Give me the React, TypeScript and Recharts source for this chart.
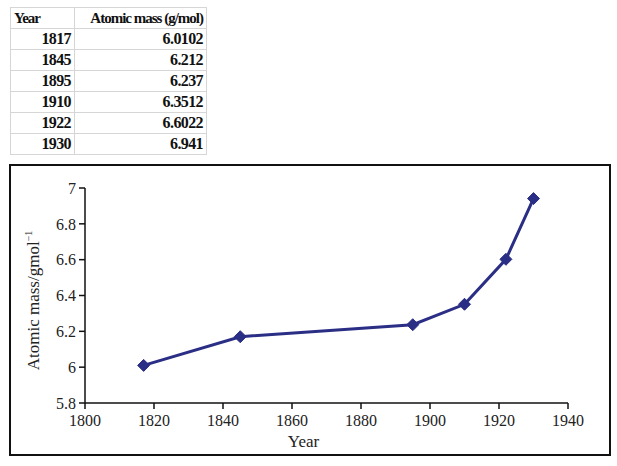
import { Label, Line, LineChart, XAxis, YAxis } from "recharts";

// table values (as printed above the chart)
const tableYears = ["1817", "1845", "1895", "1910", "1922", "1930"];
const tableMass = ["6.0102", "6.212", "6.237", "6.3512", "6.6022", "6.941"];

// plotted points
const years = [1817, 1845, 1895, 1910, 1922, 1930];
const mass = [6.01, 6.17, 6.237, 6.351, 6.602, 6.941];

const xTicks = [1800, 1820, 1840, 1860, 1880, 1900, 1920, 1940];
const yTicks = [5.8, 6, 6.2, 6.4, 6.6, 6.8, 7];

const data = years.map((y, i) => ({ year: y, mass: mass[i] }));

const NAVY = "#2b2e85";
const FONT = "'Liberation Serif', 'Times New Roman', serif";

const cell: React.CSSProperties = {
  border: "1px solid #d6d6d6",
  height: 20,
  padding: "0 3px",
  fontWeight: 700,
  fontSize: 16,
  letterSpacing: -0.6,
  lineHeight: "20px",
  textAlign: "right",
};

function Diamond(props: any) {
  const { cx, cy } = props;
  if (cx == null || cy == null) return null;
  const r = 6;
  return (
    <polygon
      points={`${cx},${cy - r} ${cx + r},${cy} ${cx},${cy + r} ${cx - r},${cy}`}
      fill={NAVY}
      stroke={NAVY}
    />
  );
}

function YTitle(props: any) {
  const vb = props.viewBox;
  const x = vb.x + 28;
  const y = vb.y + vb.height / 2 + 5;
  return (
    <text
      x={x}
      y={y}
      transform={`rotate(-90 ${x} ${y})`}
      textAnchor="middle"
      fontFamily={FONT}
      fontSize={17}
      fill="#222"
    >
      Atomic mass/gmol
      <tspan dy={-7} fontSize={10}>−1</tspan>
    </text>
  );
}

function XTitle(props: any) {
  const vb = props.viewBox;
  return (
    <text
      x={vb.x + vb.width / 2 - 23}
      y={vb.y + 44}
      textAnchor="middle"
      fontFamily={FONT}
      fontSize={17}
      fill="#222"
    >
      Year
    </text>
  );
}

export default function App() {
  return (
    <div
      style={{
        position: "absolute",
        left: 0,
        top: 0,
        width: 617,
        height: 466,
        background: "#fff",
        fontFamily: FONT,
        color: "#111",
      }}
    >
      {/* data table */}
      <table
        style={{
          position: "absolute",
          left: 10,
          top: 7,
          borderCollapse: "collapse",
          fontFamily: FONT,
        }}
      >
        <tbody>
          <tr>
            <td style={{ ...cell, width: 57, textAlign: "left", fontSize: 15, letterSpacing: -1 }}>Year</td>
            <td style={{ ...cell, width: 125, fontSize: 15, letterSpacing: -1 }}>Atomic mass (g/mol)</td>
          </tr>
          {tableYears.map((y, i) => (
            <tr key={y}>
              <td style={cell}>{y}</td>
              <td style={cell}>{tableMass[i]}</td>
            </tr>
          ))}
        </tbody>
      </table>

      {/* chart frame */}
      <div
        style={{
          position: "absolute",
          left: 9,
          top: 164,
          width: 602,
          height: 292,
          boxSizing: "border-box",
          border: "2px solid #111",
        }}
      >
        <LineChart
          width={598}
          height={288}
          data={data}
          margin={{ top: 22, right: 41, bottom: 0, left: 0 }}
        >
          <XAxis
            dataKey="year"
            type="number"
            domain={[1800, 1940]}
            ticks={xTicks}
            allowDataOverflow
            height={51}
            tickSize={6}
            tickMargin={6}
            stroke="#111"
            strokeWidth={1.5}
            tick={{ fontSize: 16, fontFamily: FONT, fill: "#222" }}
          >
            <Label content={XTitle} />
          </XAxis>
          <YAxis
            type="number"
            domain={[5.8, 7]}
            ticks={yTicks}
            allowDataOverflow
            width={74}
            tickSize={6}
            tickMargin={3}
            stroke="#111"
            strokeWidth={1.5}
            tick={{ fontSize: 16, fontFamily: FONT, fill: "#222" }}
          >
            <Label content={YTitle} />
          </YAxis>
          <Line
            dataKey="mass"
            stroke={NAVY}
            strokeWidth={3}
            dot={<Diamond />}
            activeDot={false}
            isAnimationActive={false}
          />
        </LineChart>
      </div>
    </div>
  );
}
